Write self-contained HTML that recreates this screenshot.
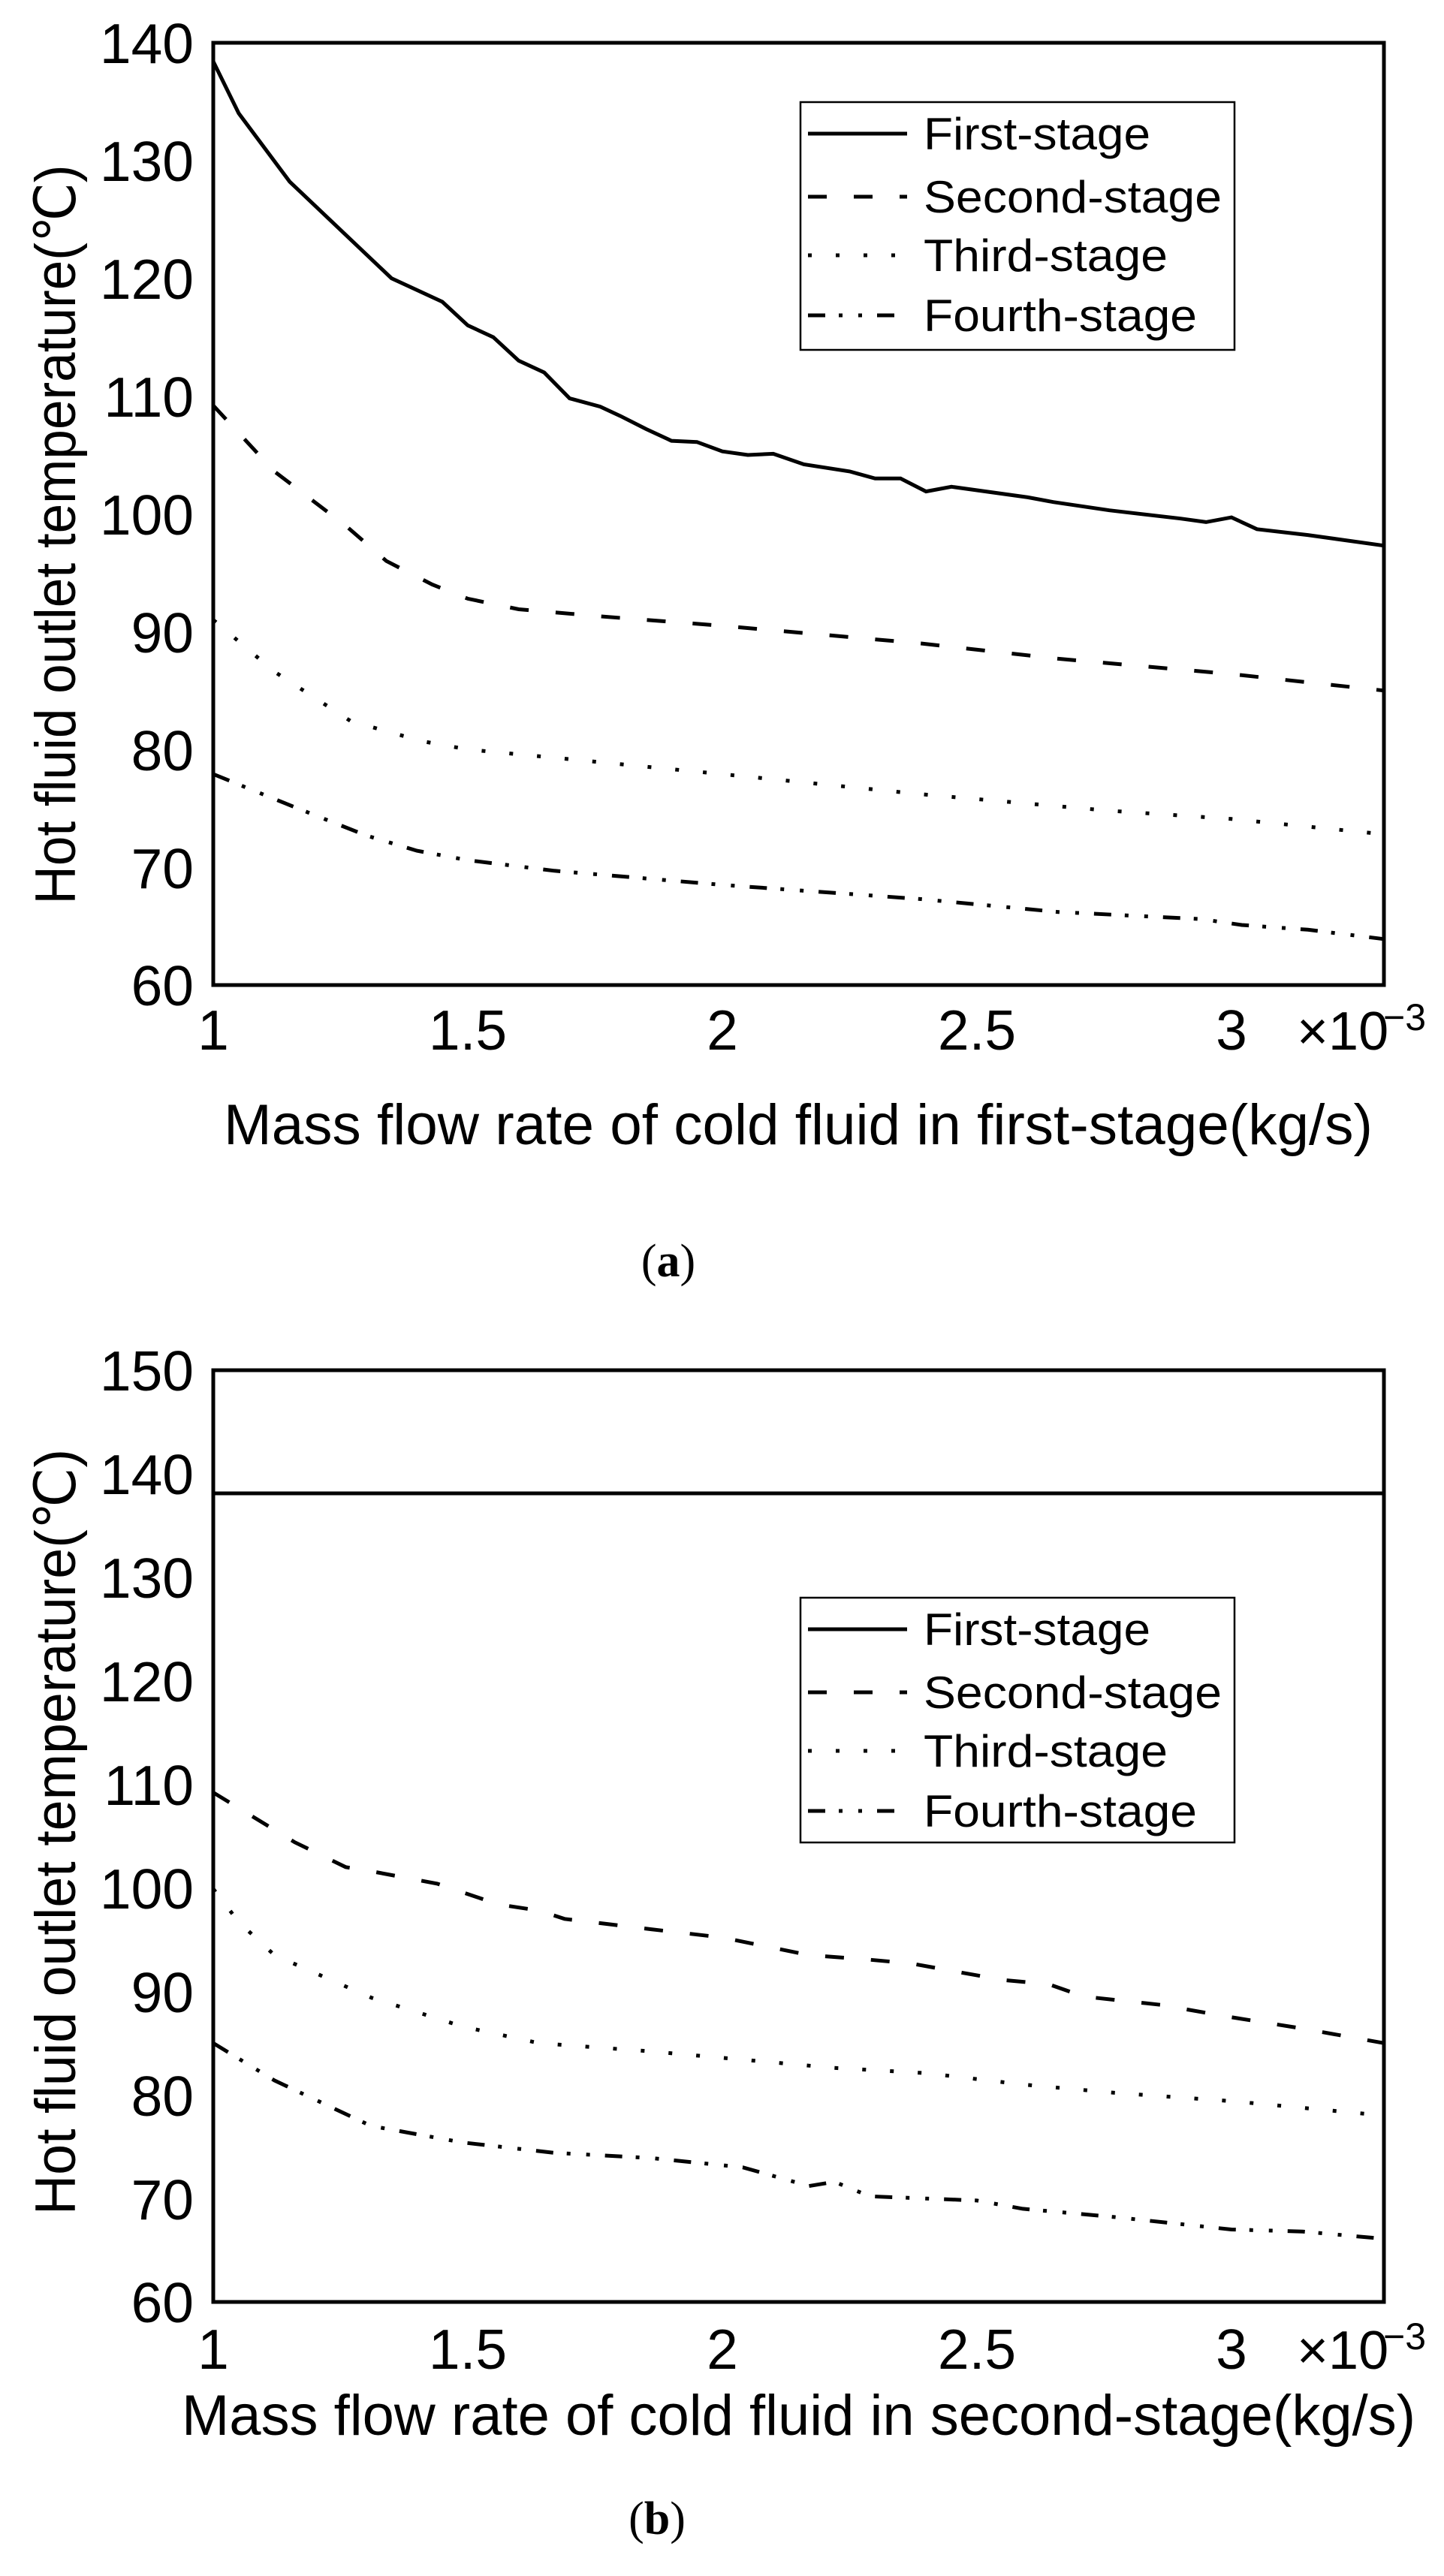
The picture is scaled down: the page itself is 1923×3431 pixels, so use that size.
<!DOCTYPE html>
<html><head><meta charset="utf-8">
<style>
html,body{margin:0;padding:0;background:#fff;}
svg{display:block;}
text{font-family:"Liberation Sans",Arial,sans-serif;fill:#000;}
</style></head>
<body>
<svg id="s" width="1923" height="3431" viewBox="0 0 1923 3431" xmlns="http://www.w3.org/2000/svg">
<rect width="1923" height="3431" fill="#fff"/>
<!-- Plot a -->
<g id="ga"></g>
<rect x="284" y="57" width="1559" height="1255" fill="none" stroke="#000" stroke-width="5"/>
<g font-size="75" text-anchor="end">
<text x="258" y="84">140</text><text x="258" y="241">130</text><text x="258" y="398">120</text>
<text x="258" y="555">110</text><text x="258" y="712">100</text><text x="258" y="869">90</text>
<text x="258" y="1026">80</text><text x="258" y="1183">70</text><text x="258" y="1339">60</text>
</g>
<g font-size="75" text-anchor="middle">
<text x="284" y="1398">1</text><text x="623" y="1398">1.5</text><text x="962" y="1398">2</text>
<text x="1301" y="1398">2.5</text><text x="1640" y="1398">3</text>
</g>
<text x="1727" y="1398" font-size="72">×10</text><text x="1842" y="1372" font-size="50">−3</text>
<text x="298" y="1524" font-size="76" textLength="1530" lengthAdjust="spacingAndGlyphs">Mass flow rate of cold fluid in first-stage(kg/s)</text>
<text transform="translate(100,712) rotate(-90)" font-size="76" text-anchor="middle" textLength="985" lengthAdjust="spacingAndGlyphs">Hot fluid outlet temperature(℃)</text>
<text x="890" y="1700" font-size="62" text-anchor="middle" font-family="Liberation Serif,serif" style="font-family:'Liberation Serif',serif">(<tspan font-weight="bold">a</tspan>)</text>

<!-- legend a -->
<rect x="1066" y="136" width="578" height="330" fill="#fff" stroke="#000" stroke-width="2.5"/>
<g id="lega"></g>

<!-- Plot b -->
<g id="gb"></g>
<rect x="284" y="1825" width="1559" height="1241" fill="none" stroke="#000" stroke-width="5"/>
<g font-size="75" text-anchor="end">
<text x="258" y="1852">150</text><text x="258" y="1990">140</text><text x="258" y="2128">130</text>
<text x="258" y="2266">120</text><text x="258" y="2404">110</text><text x="258" y="2542">100</text>
<text x="258" y="2680">90</text><text x="258" y="2818">80</text><text x="258" y="2956">70</text>
<text x="258" y="3093">60</text>
</g>
<g font-size="75" text-anchor="middle">
<text x="284" y="3155">1</text><text x="623" y="3155">1.5</text><text x="962" y="3155">2</text>
<text x="1301" y="3155">2.5</text><text x="1640" y="3155">3</text>
</g>
<text x="1727" y="3155" font-size="72">×10</text><text x="1842" y="3129" font-size="50">−3</text>
<text x="242" y="3243" font-size="76" textLength="1643" lengthAdjust="spacingAndGlyphs">Mass flow rate of cold fluid in second-stage(kg/s)</text>
<text transform="translate(100,2440) rotate(-90)" font-size="76" text-anchor="middle" textLength="1020" lengthAdjust="spacingAndGlyphs">Hot fluid outlet temperature(℃)</text>
<text x="875" y="3375" font-size="62" text-anchor="middle" style="font-family:'Liberation Serif',serif">(<tspan font-weight="bold">b</tspan>)</text>

<rect x="1066" y="2128" width="578" height="326" fill="#fff" stroke="#000" stroke-width="2.5"/>
<g id="legb"></g>
</svg>
<script>
var NS="http://www.w3.org/2000/svg";
var dashes=[null,"25 36","5 32","23 18 5 21 5 20"];
function xp(v){return 284+(v-1)*678;}
function mk(g,d,i){var p=document.createElementNS(NS,"path");p.setAttribute("d",d);p.setAttribute("fill","none");p.setAttribute("stroke","#000");p.setAttribute("stroke-width","5");if(dashes[i])p.setAttribute("stroke-dasharray",dashes[i]);g.appendChild(p);}
function plot(gid,series,y0,ppu,base){var g=document.getElementById(gid);
series.forEach(function(s,i){var d="";s.forEach(function(pt,j){d+=(j?"L":"M")+xp(pt[0]).toFixed(1)+","+(y0-(pt[1]-base)*ppu).toFixed(1);});mk(g,d,i);});}
var A=[
[[1,138.4],[1.05,134],[1.15,128.2],[1.35,120],[1.45,118],[1.5,116],[1.55,115],[1.6,113],[1.65,112],[1.7,109.8],[1.76,109.1],[1.8,108.3],[1.85,107.2],[1.9,106.2],[1.95,106.1],[2,105.3],[2.05,105],[2.1,105.1],[2.16,104.2],[2.25,103.6],[2.3,103],[2.35,103],[2.4,101.9],[2.45,102.3],[2.6,101.4],[2.65,101],[2.76,100.3],[2.9,99.6],[2.95,99.3],[3,99.7],[3.05,98.7],[3.15,98.2],[3.3,97.3]],
[[1,109.2],[1.12,103.6],[1.26,99],[1.34,96],[1.43,94],[1.5,92.8],[1.6,91.9],[1.76,91.3],[2,90.5],[2.39,89],[2.66,87.7],[3,86.4],[3.3,85]],
[[1,91],[1.12,86.6],[1.27,82.4],[1.41,80.7],[1.5,80],[1.67,79.3],[2,77.9],[2.39,76.2],[2.76,74.8],[3,74.1],[3.3,72.8]],
[[1,77.9],[1.16,75.1],[1.3,72.7],[1.4,71.4],[1.5,70.6],[1.67,69.7],[2,68.5],[2.39,67.3],[2.66,66.2],[2.94,65.6],[3.02,65.1],[3.15,64.7],[3.3,63.9]]];
var B=[
[[1,138.1],[3.3,138.1]],
[[1,109.2],[1.16,104.4],[1.26,102],[1.31,101.6],[1.44,100.4],[1.56,98.4],[1.64,97.8],[1.69,97],[1.86,96],[2,95.2],[2.17,93.5],[2.28,93.1],[2.37,92.7],[2.55,91.1],[2.64,90.7],[2.71,89.5],[2.86,88.7],[3,87.5],[3.14,86.4],[3.3,85]],
[[1,99.9],[1.05,96.7],[1.12,93.5],[1.31,89.4],[1.49,86.6],[1.64,85],[1.86,84.2],[2.04,83.4],[2.22,82.6],[2.4,82.1],[2.59,81],[2.77,80.2],[3,79.4],[3.3,78]],
[[1,85],[1.12,81.4],[1.31,77],[1.49,75.4],[1.67,74.4],[1.86,73.9],[2.04,73],[2.17,71.2],[2.22,71.6],[2.29,70.2],[2.5,69.8],[2.59,69],[2.77,68.2],[3,67],[3.14,66.8],[3.3,66.1]]];
plot("ga",A,1312,15.69,60);
plot("gb",B,3066,13.79,60);
function legend(gid,top){var g=document.getElementById(gid);
var names=["First-stage","Second-stage","Third-stage","Fourth-stage"],lens=[302,397,325,364],offs=[42,126,204,284];
names.forEach(function(n,i){var y=top+offs[i];mk(g,"M1076,"+y+"L1208,"+y,i);
var t=document.createElementNS(NS,"text");t.setAttribute("x","1230");t.setAttribute("y",y+21);t.setAttribute("font-size","60");t.setAttribute("textLength",lens[i]);t.setAttribute("lengthAdjust","spacingAndGlyphs");t.textContent=n;g.appendChild(t);});}
legend("lega",136);legend("legb",2128);
</script>
</body></html>
